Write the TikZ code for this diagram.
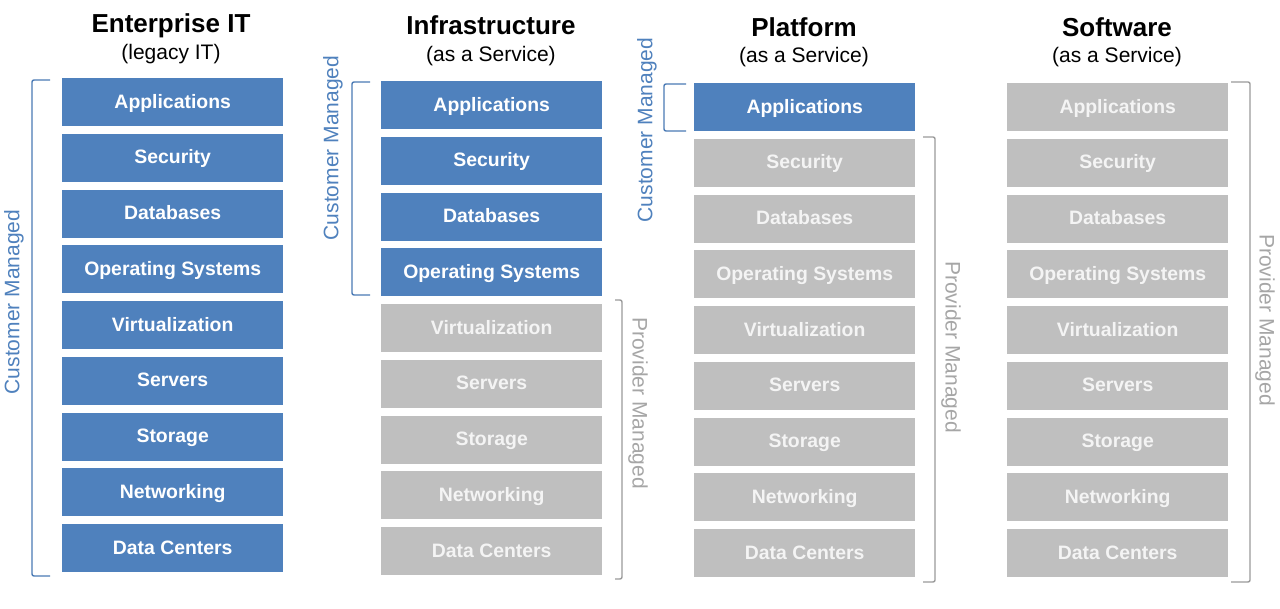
\documentclass[tikz,border=0pt]{standalone}
\usepackage{fontspec}
\setmainfont{Liberation Sans}
\definecolor{cblue}{HTML}{4F81BD}
\definecolor{cgray}{HTML}{BFBFBF}
\definecolor{gtext}{HTML}{F4F4F4}
\definecolor{brblue}{HTML}{4A7AB5}
\definecolor{brgray}{HTML}{9A9A9A}
\definecolor{ptext}{HTML}{A6A6A6}
\begin{document}
\begin{tikzpicture}[x=1pt,y=-1pt,
  layer/.style={draw=none, minimum width=221pt, minimum height=48pt, inner sep=0pt,
    anchor=north west, text height=12pt, text depth=0pt,
    font=\bfseries\fontsize{19.4}{20}\selectfont},
  title/.style={anchor=base, inner sep=0pt, font=\bfseries\fontsize{26}{28}\selectfont},
  subtitle/.style={anchor=base, inner sep=0pt, font=\fontsize{21}{24}\selectfont},
  custbracket/.style={draw=brblue, line width=1.4pt, rounded corners=2pt},
  provbracket/.style={draw=brgray, line width=1.4pt, rounded corners=2pt},
  custlabel/.style={rotate=90, text=cblue, inner sep=0pt, font=\fontsize{21}{24}\selectfont},
  provlabel/.style={rotate=-90, text=ptext, inner sep=0pt, font=\fontsize{21}{24}\selectfont}
]
\useasboundingbox (0,0) rectangle (1280,609);
\fill[white] (0,0) rectangle (1280,609);

% titles
\node[title] (t1) at (171,33) {Enterprise IT};
\node[subtitle] (s1) at (171,60) {(legacy IT)};
\node[title] (t2) at (491,35) {Infrastructure};
\node[subtitle] (s2) at (491,62) {(as a Service)};
\node[title] (t3) at (804,37) {Platform};
\node[subtitle] (s3) at (804,63) {(as a Service)};
\node[title] (t4) at (1117,37) {Software};
\node[subtitle] (s4) at (1117,63) {(as a Service)};

% layer stacks
\foreach \col/\x/\top/\nb in {1/62/78/9, 2/381/81/4, 3/694/83/1, 4/1007/83/0} {
  \foreach \lab [count=\i] in {Applications, Security, Databases, Operating Systems,
      Virtualization, Servers, Storage, Networking, Data Centers} {
    \pgfmathsetmacro\yy{\top+(\i-1)*55.75}
    \ifnum\i>\nb
      \def\fc{cgray}\def\tc{gtext}
    \else
      \def\fc{cblue}\def\tc{white}
    \fi
    \node[layer, fill=\fc, text=\tc] (c\col r\i) at (\x,\yy) {\lab};
  }
}

% brackets
\draw[custbracket] (50,80) -- (32,80) -- (32,576) -- (50,576);
\draw[custbracket] (370,82) -- (352,82) -- (352,295) -- (370,295);
\draw[provbracket] (615,300) -- (622,300) -- (622,579) -- (615,579);
\draw[custbracket] (686,84) -- (664,84) -- (664,131) -- (686,131);
\draw[provbracket] (923,137) -- (935,137) -- (935,582) -- (923,582);
\draw[provbracket] (1231,82) -- (1250,82) -- (1250,582) -- (1231,582);

% bracket labels
\node[custlabel] (cm1) at (14,302) {Customer Managed};
\node[custlabel] (cm2) at (333,148) {Customer Managed};
\node[custlabel] (cm3) at (647,130) {Customer Managed};
\node[provlabel] (pm2) at (638,403) {Provider Managed};
\node[provlabel] (pm3) at (951,347) {Provider Managed};
\node[provlabel] (pm4) at (1265,320) {Provider Managed};
\end{tikzpicture}
\end{document}
